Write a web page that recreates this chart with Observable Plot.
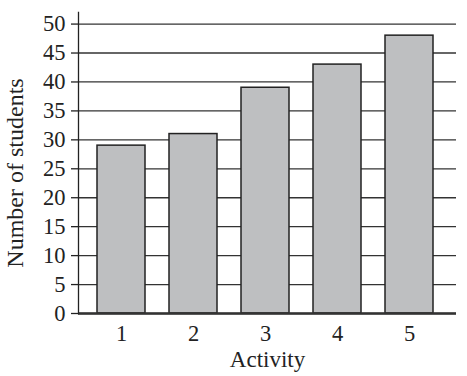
<!DOCTYPE html>
<html>
<head>
<meta charset="utf-8">
<script src="https://cdn.jsdelivr.net/npm/d3@7"></script>
<script src="https://cdn.jsdelivr.net/npm/@observablehq/plot@0.6"></script>
<style>
  html, body { margin: 0; padding: 0; background: #fff; }
  #chart svg { display: block; }
  #chart svg text { font-family: "Liberation Serif", "Times New Roman", serif !important; fill: #222; }
  #chart svg g[aria-label="y-axis tick label"] text,
  #chart svg g[aria-label="x-axis tick label"] text { font-size: 22.5px !important; }
  #chart svg g[aria-label="x-axis label"] text { font-size: 23px !important; }
</style>
</head>
<body>
<div id="chart"></div>
<script>
const activities = [1, 2, 3, 4, 5];
const students = [29, 31, 39, 43, 48];
const yTicks = [0, 5, 10, 15, 20, 25, 30, 35, 40, 45, 50];
const yTitle = ["Number of students"];

const data = activities.map((a, i) => ({activity: a, students: students[i]}));

const chart = Plot.plot({
  width: 467,
  height: 376,
  marginLeft: 78,
  marginRight: 11,
  marginTop: 12,
  marginBottom: 63,
  style: {background: "#fff"},
  x: {domain: activities, paddingInner: 0.34, paddingOuter: 0.29, align: 0.45},
  y: {domain: [0, 52]},
  marks: [
    Plot.ruleY(yTicks, {stroke: "#333", strokeWidth: 1.3}),
    Plot.barY(data, {x: "activity", y: "students", fill: "#bebfc1", stroke: "#222", strokeWidth: 1.5}),
    Plot.ruleY([0], {stroke: "#333", strokeWidth: 2.5}),
    Plot.frame({anchor: "left", stroke: "#222", strokeWidth: 1.3}),
    Plot.axisY({ticks: yTicks, tickSize: 7, tickPadding: 6, stroke: "#222", strokeWidth: 1.3, strokeOpacity: 1, label: null}),
    Plot.text(yTitle, {frameAnchor: "left", textAnchor: "middle", lineAnchor: "middle", rotate: -90, dx: -63, dy: 10, fontSize: 24, fill: "#222"}),
    Plot.axisX({tickSize: 0, tickPadding: 12, label: "Activity", labelAnchor: "center", labelOffset: 53, labelArrow: false})
  ]
});
document.getElementById("chart").appendChild(chart);
</script>
</body>
</html>
